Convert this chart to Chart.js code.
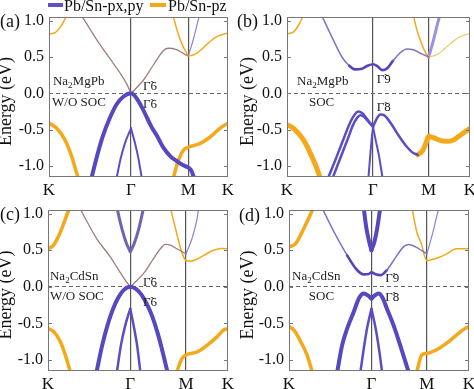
<!DOCTYPE html>
<html><head><meta charset="utf-8">
<script src="https://cdn.jsdelivr.net/npm/chart.js@4"></script>
<style>
html,body{margin:0;padding:0;background:#fff;}
body{width:474px;height:389px;position:relative;overflow:hidden;font-family:"Liberation Serif",serif;}
canvas{position:absolute;}
.lg{position:absolute;height:4px;}
.lt{position:absolute;top:-2px;font:16px/16px "Liberation Serif",serif;color:#111;white-space:nowrap;}
</style></head><body>
<canvas id="ca" width="237" height="200" style="left:0;top:0"></canvas>
<canvas id="cb" width="237" height="200" style="left:237px;top:0"></canvas>
<canvas id="cc" width="237" height="196" style="left:0;top:193px"></canvas>
<canvas id="cd" width="237" height="196" style="left:237px;top:193px"></canvas>
<div class="lg" style="left:48px;top:3px;width:15px;background:#5f52c6"></div>
<div class="lt" style="left:64px">Pb/Sn-px,py</div>
<div class="lg" style="left:150px;top:3px;width:16px;background:#f4a81a"></div>
<div class="lt" style="left:168px">Pb/Sn-pz</div>
<script>
// ---------- tick labels / k-points ----------
const kLabels = ['K','Γ','M','K'];
const yTickVals = [-1, -0.5, 0, 0.5, 1];
const kA = [0, 0.458, 0.778, 1];
const kB = [0, 0.470, 0.774, 1];
const kC = [0, 0.457, 0.767, 1];
const kD = [0, 0.458, 0.766, 1];

// ---------- panel (a) Na2MgPb w/o SOC ----------
const A_vb    = [[0.238,-1.16],[0.258,-0.96],[0.298,-0.61],[0.338,-0.35],[0.378,-0.15],[0.418,-0.04],[0.458,0],[0.49,-0.07],[0.527,-0.23],[0.57,-0.45],[0.60,-0.57],[0.64,-0.75],[0.68,-0.87],[0.713,-0.93],[0.75,-0.99],[0.778,-1.02],[0.795,-1.06],[0.81,-1.16]];
const A_inL   = [[0.378,-1.16],[0.40,-0.9],[0.425,-0.68],[0.458,-0.48]];
const A_inR   = [[0.458,-0.48],[0.48,-0.68],[0.50,-0.9],[0.518,-1.16]];
const A_brnL  = [[0.182,1.07],[0.266,0.74],[0.34,0.48],[0.397,0.28],[0.434,0.13],[0.458,0.0]];
const A_brnR  = [[0.458,0.0],[0.527,0.18],[0.583,0.39],[0.64,0.59],[0.667,0.62],[0.713,0.6],[0.75,0.55],[0.778,0.515]];
const A_topG  = [[0.44,1.1],[0.458,1.04],[0.476,1.1]];
const A_orgTL = [[0,0.82],[0.03,0.83],[0.06,0.9],[0.085,1.0],[0.1,1.08]];
const A_orgTR = [[0.69,1.1],[0.72,0.83],[0.75,0.64],[0.77,0.55],[0.778,0.515],[0.825,0.55],[0.88,0.67],[0.937,0.78],[1.0,0.83]];
const A_purM  = [[0.778,0.515],[0.806,0.74],[0.834,1.01],[0.845,1.1]];
const A_orgBL = [[0,-0.41],[0.043,-0.48],[0.089,-0.64],[0.127,-0.87],[0.155,-1.10],[0.164,-1.16]];
const A_orgBR = [[0.695,-1.16],[0.715,-0.98],[0.735,-0.85],[0.755,-0.77],[0.778,-0.74],[0.844,-0.69],[0.9,-0.6],[0.955,-0.48],[1.0,-0.41]];

// ---------- panel (b) Na2MgPb SOC ----------
const B_cb    = [[0.19,1.07],[0.25,0.75],[0.30,0.5],[0.34,0.38],[0.37,0.33],[0.41,0.34],[0.44,0.38],[0.47,0.40],[0.495,0.37],[0.52,0.32],[0.545,0.34],[0.58,0.45],[0.62,0.56],[0.655,0.61],[0.69,0.6],[0.73,0.55],[0.774,0.5]];
const B_topG  = [[0.455,1.1],[0.47,1.05],[0.485,1.1]];
const B_orgTL = [[0,0.82],[0.036,0.845],[0.064,0.94],[0.082,1.03],[0.09,1.08]];
const B_orgTR = [[0.69,1.08],[0.71,0.87],[0.736,0.68],[0.755,0.57],[0.774,0.5]];
const B_orgMK = [[0.774,0.5],[0.818,0.53],[0.86,0.61],[0.9,0.7],[0.945,0.78],[1.0,0.82]];
const B_purM  = [[0.774,0.5],[0.8,0.73],[0.827,1.0],[0.836,1.08]];
const B_v1o   = [[0.225,-1.16],[0.27,-0.88],[0.31,-0.62],[0.345,-0.40],[0.37,-0.29],[0.39,-0.25],[0.41,-0.27],[0.44,-0.36],[0.47,-0.46]];
const B_v1i   = [[0.25,-1.16],[0.29,-0.90],[0.33,-0.64],[0.36,-0.44],[0.385,-0.33],[0.40,-0.30],[0.42,-0.32],[0.445,-0.39],[0.47,-0.46]];
const B_v2    = [[0.47,-0.46],[0.49,-0.35],[0.51,-0.29],[0.53,-0.30],[0.57,-0.42],[0.61,-0.58],[0.65,-0.72],[0.69,-0.82],[0.715,-0.845]];
const B_v2o   = [[0.715,-0.845],[0.74,-0.79],[0.76,-0.68],[0.774,-0.59],[0.80,-0.61],[0.84,-0.65],[0.87,-0.66],[0.91,-0.64],[0.95,-0.57],[1.0,-0.48]];
const B_xL    = [[0.445,-1.16],[0.455,-0.85],[0.462,-0.65],[0.47,-0.46]];
const B_xR    = [[0.47,-0.46],[0.485,-0.65],[0.502,-0.85],[0.522,-1.16]];
const B_orgBL = [[0,-0.43],[0.036,-0.48],[0.09,-0.64],[0.136,-0.87],[0.173,-1.1],[0.18,-1.16]];

// ---------- panel (c) Na2CdSn w/o SOC ----------
const C_vb    = [[0.27,-1.16],[0.30,-0.81],[0.33,-0.53],[0.36,-0.31],[0.39,-0.15],[0.42,-0.045],[0.457,0],[0.49,-0.03],[0.52,-0.11],[0.55,-0.24],[0.58,-0.41],[0.61,-0.64],[0.64,-0.92],[0.665,-1.18]];
const C_inL   = [[0.383,-1.16],[0.405,-0.8],[0.43,-0.52],[0.457,-0.3]];
const C_inR   = [[0.457,-0.3],[0.475,-0.52],[0.495,-0.8],[0.513,-1.16]];
const C_vL    = [[0.383,1.08],[0.41,0.8],[0.435,0.6],[0.457,0.48]];
const C_vR    = [[0.457,0.48],[0.48,0.6],[0.505,0.8],[0.531,1.08]];
const C_brnL  = [[0.18,1.06],[0.27,0.66],[0.346,0.41],[0.40,0.2],[0.43,0.09],[0.457,0.0]];
const C_brnR  = [[0.457,0.0],[0.537,0.2],[0.587,0.39],[0.624,0.52],[0.652,0.58],[0.68,0.57],[0.716,0.52],[0.767,0.45]];
const C_purM  = [[0.767,0.45],[0.8,0.66],[0.828,0.93],[0.837,1.08]];
const C_orgTL = [[0,0.52],[0.031,0.57],[0.069,0.75],[0.115,1.05],[0.12,1.08]];
const C_orgTR = [[0.68,1.08],[0.70,0.88],[0.72,0.68],[0.74,0.5],[0.755,0.4],[0.767,0.36],[0.79,0.35],[0.82,0.37],[0.865,0.43],[0.92,0.5],[0.96,0.525],[1.0,0.52]];
const C_orgBL = [[0,-0.57],[0.031,-0.61],[0.069,-0.75],[0.096,-0.93],[0.124,-1.16]];
const C_orgBR = [[0.716,-1.16],[0.744,-0.98],[0.767,-0.93],[0.828,-0.89],[0.883,-0.8],[0.94,-0.68],[0.976,-0.59],[1.0,-0.57]];

// ---------- panel (d) Na2CdSn SOC ----------
const D_vbL   = [[0.268,-1.16],[0.295,-0.8],[0.323,-0.57],[0.36,-0.34],[0.39,-0.15],[0.415,-0.09],[0.44,-0.12],[0.458,-0.16]];
const D_vbR   = [[0.458,-0.16],[0.475,-0.12],[0.498,-0.09],[0.52,-0.15],[0.544,-0.3],[0.58,-0.52],[0.618,-0.8],[0.664,-1.16]];
const D_inL   = [[0.397,-1.16],[0.415,-0.85],[0.435,-0.55],[0.458,-0.3]];
const D_inR   = [[0.458,-0.3],[0.48,-0.55],[0.5,-0.85],[0.517,-1.16]];
const D_cb    = [[0.185,1.07],[0.25,0.75],[0.323,0.43],[0.378,0.23],[0.415,0.17],[0.443,0.175],[0.458,0.2],[0.478,0.175],[0.507,0.16],[0.544,0.23],[0.6,0.43],[0.637,0.55],[0.664,0.58],[0.7,0.55],[0.766,0.45]];
const D_vL    = [[0.415,1.08],[0.43,0.8],[0.445,0.62],[0.458,0.5]];
const D_vR    = [[0.458,0.5],[0.475,0.62],[0.49,0.8],[0.507,1.08]];
const D_purM  = [[0.766,0.45],[0.8,0.75],[0.83,1.05],[0.835,1.08]];
const D_orgTL = [[0,0.545],[0.037,0.59],[0.083,0.8],[0.13,1.05],[0.135,1.08]];
const D_orgTR = [[0.683,1.08],[0.71,0.75],[0.738,0.57],[0.752,0.43],[0.766,0.36],[0.79,0.37],[0.82,0.39],[0.876,0.45],[0.93,0.52],[1.0,0.52]];
const D_orgBL = [[0,-0.545],[0.028,-0.59],[0.065,-0.75],[0.1,-0.93],[0.129,-1.16]];
const D_orgBR = [[0.71,-1.16],[0.738,-0.93],[0.766,-0.91],[0.82,-0.86],[0.876,-0.77],[0.93,-0.66],[0.978,-0.57],[1.0,-0.545]];

// ---------- styles ----------
const PUR='#5a4ec4', ORG='#f4a81a';
const ST = {
  purThick:{c:'#5548c0', w:4},
  pur:     {c:'#5a4ec4', w:2},
  purMid:  {c:'#5a4ec4', w:2.5},
  purLav:  {c:'#9a92dc', w:3},
  purGray: {c:'#6e64b4', w:3},
  purThin: {c:'#8a82cc', w:1.2},
  purCB:   {c:'#7d74c6', w:1.5, lo:0.33, hi:0.57, c2:'#5246be', w2:2.6},
  brn:     {c:'#9e7f7d', w:1.3},
  org:     {c:ORG, w:1.5},
  orgLight:{c:'#f5c45e', w:1.1},
  orgThick:{c:ORG, w:3.5},
  orgFat:  {c:ORG, w:5},
  orgMid:  {c:ORG, w:2.5}
};

const panels = [
  {id:'ca', k:kA, yw:49, rp:9, tp:17, xh:23, tpad:-2.5, tag:'(a)', tagX:0, tagY:27,
   bands:[[A_vb,'purThick'],[A_inL,'pur'],[A_inR,'pur'],[A_brnL,'brn'],[A_brnR,'brn'],[A_topG,'org'],
          [A_orgTL,'org'],[A_orgTR,'org'],[A_purM,'purThin'],[A_orgBL,'orgThick'],[A_orgBR,'orgThick']],
   notes:[['Na₂MgPb',0.022,0.114],['W/O SOC',0.017,-0.175],['Γ\u03036',0.525,0.046],['Γ\u03036',0.525,-0.2]]},
  {id:'cb', k:kB, yw:50, rp:4, tp:17, xh:23, tpad:2.5, tag:'(b)', tagX:0, tagY:27,
   bands:[[B_v1o,'purMid'],[B_v1i,'purMid'],[B_v2,'purMid'],[B_xL,'pur'],[B_xR,'pur'],[B_cb,'purCB'],[B_topG,'purThin'],
          [B_orgTL,'org'],[B_orgTR,'org'],[B_orgMK,'orgLight'],[B_purM,'purLav'],[B_v2o,'orgFat'],[B_orgBL,'orgFat']],
   notes:[['Na₂MgPb',0.055,0.114],['SOC',0.12,-0.175],['Γ\u03039',0.49,0.145],['Γ\u03038',0.49,-0.24]]},
  {id:'cc', k:kC, yw:48, rp:9, tp:17, xh:18, tpad:-2.3, tag:'(c)', tagX:0, tagY:27,
   bands:[[C_vb,'purThick'],[C_inL,'purMid'],[C_inR,'purMid'],[C_vL,'purGray'],[C_vR,'purGray'],[C_brnL,'brn'],[C_brnR,'brn'],
          [C_purM,'purThin'],[C_orgTL,'orgThick'],[C_orgTR,'org'],[C_orgBL,'orgThick'],[C_orgBR,'orgThick']],
   notes:[['Na₂CdSn',0.011,0.09],['W/O SOC',0.011,-0.185],['Γ\u03036',0.528,0.014],['Γ\u03036',0.528,-0.265]]},
  {id:'cd', k:kD, yw:52, rp:5, tp:17, xh:18, tpad:2.7, tag:'(d)', tagX:2, tagY:28,
   bands:[[D_vbL,'purThick'],[D_vbR,'purThick'],[D_inL,'purMid'],[D_inR,'purMid'],[D_vL,'purThick'],[D_vR,'purThick'],[D_cb,'purCB'],
          [D_purM,'purThin'],[D_orgTL,'orgThick'],[D_orgTR,'org'],[D_orgBL,'orgThick'],[D_orgBR,'orgThick']],
   notes:[['Na₂CdSn',0.017,0.09],['SOC',0.11,-0.18],['Γ\u03039',0.535,0.068],['Γ\u03038',0.535,-0.195]]}
];

function drawNote(ctx, n, xs, ys) {
  let px = xs.getPixelForValue(n[1]);
  const py = ys.getPixelForValue(n[2]);
  const parts = n[0].split('₂');
  parts.forEach((s, i) => {
    ctx.font = '13px "Liberation Serif"';
    ctx.fillText(s, px, py);
    px += ctx.measureText(s).width;
    if (i < parts.length - 1) {
      ctx.font = '9px "Liberation Serif"';
      ctx.fillText('2', px, py + 3);
      px += ctx.measureText('2').width;
    }
  });
}

const deco = {
  id: 'deco',
  afterDatasetsDraw(chart, args, o) {
    const {ctx, chartArea: a, scales: {x, y}} = chart;
    ctx.save();
    ctx.strokeStyle = '#777'; ctx.lineWidth = 1;
    ctx.strokeRect(a.left + 0.5, a.top + 0.5, a.right - a.left - 1, a.bottom - a.top - 1);
    ctx.beginPath();
    yTickVals.forEach(v => {
      const py = Math.round(y.getPixelForValue(v)) + 0.5;
      ctx.moveTo(a.left, py); ctx.lineTo(a.left + 4, py);
      ctx.moveTo(a.right - 4, py); ctx.lineTo(a.right, py);
    });
    ctx.stroke();
    ctx.fillStyle = '#111';
    ctx.textBaseline = 'alphabetic'; ctx.textAlign = 'left';
    ctx.font = '18px "Liberation Serif"';
    ctx.fillText(o.tag, o.tagX, o.tagY);
    ctx.fillStyle = '#222';
    o.notes.forEach(n => drawNote(ctx, n, x, y));
    ctx.restore();
  }
};

function makeDataset(arr, sn) {
  const s = ST[sn];
  const ds = {
    data: arr.map(([x, y]) => ({x, y})),
    borderColor: s.c, borderWidth: s.w,
    pointRadius: 0, fill: false, cubicInterpolationMode: 'monotone', clip: 0,
    borderCapStyle: 'round', borderJoinStyle: 'round'
  };
  if (s.lo !== undefined) {
    const inside = c => { const m = (c.p0.parsed.x + c.p1.parsed.x) / 2; return m >= s.lo && m <= s.hi; };
    ds.segment = {
      borderColor: c => inside(c) ? s.c2 : s.c,
      borderWidth: c => inside(c) ? s.w2 : s.w
    };
  }
  return ds;
}

panels.forEach(p => {
  new Chart(document.getElementById(p.id), {
    type: 'line',
    data: { datasets: p.bands.map(([arr, sn]) => makeDataset(arr, sn)) },
    options: {
      responsive: false, animation: false, events: [],
      layout: { padding: { left: 0, right: p.rp, top: p.tp, bottom: 0 } },
      plugins: { legend: { display: false }, tooltip: { enabled: false }, deco: p },
      scales: {
        x: {
          type: 'linear', min: 0, max: 1,
          afterBuildTicks: s => { s.ticks = p.k.map(v => ({ value: v })); },
          afterFit: s => { s.height = p.xh; s.paddingLeft = 0; s.paddingRight = 0; },
          ticks: { autoSkip: false, maxRotation: 0, minRotation: 0, padding: 3, color: '#111',
                   font: { family: 'Liberation Serif', size: 17 }, callback: (v, i) => kLabels[i] },
          grid: { drawTicks: false, lineWidth: 1.2,
                  color: c => (c.index === 1 || c.index === 2) ? '#555' : 'rgba(0,0,0,0)' },
          border: { display: false }
        },
        y: {
          type: 'linear', min: -1.15, max: 1.05,
          afterBuildTicks: s => { s.ticks = yTickVals.map(v => ({ value: v })); },
          afterFit: s => { s.width = p.yw; s.paddingTop = 0; s.paddingBottom = 0; },
          ticks: { padding: 5, color: '#111', font: { family: 'Liberation Serif', size: 16 },
                   callback: v => Number(v).toFixed(1) },
          grid: { drawTicks: false, lineWidth: 1,
                  color: c => (c.tick && c.tick.value === 0) ? '#666' : 'rgba(0,0,0,0)' },
          border: { display: false, dash: [4, 3] },
          title: { display: true, text: 'Energy (eV)  ', color: '#111',
                   font: { family: 'Liberation Serif', size: 18, lineHeight: 1 },
                   padding: { top: p.tpad, bottom: 0 } }
        }
      }
    },
    plugins: [deco]
  });
});
</script>
</body></html>
